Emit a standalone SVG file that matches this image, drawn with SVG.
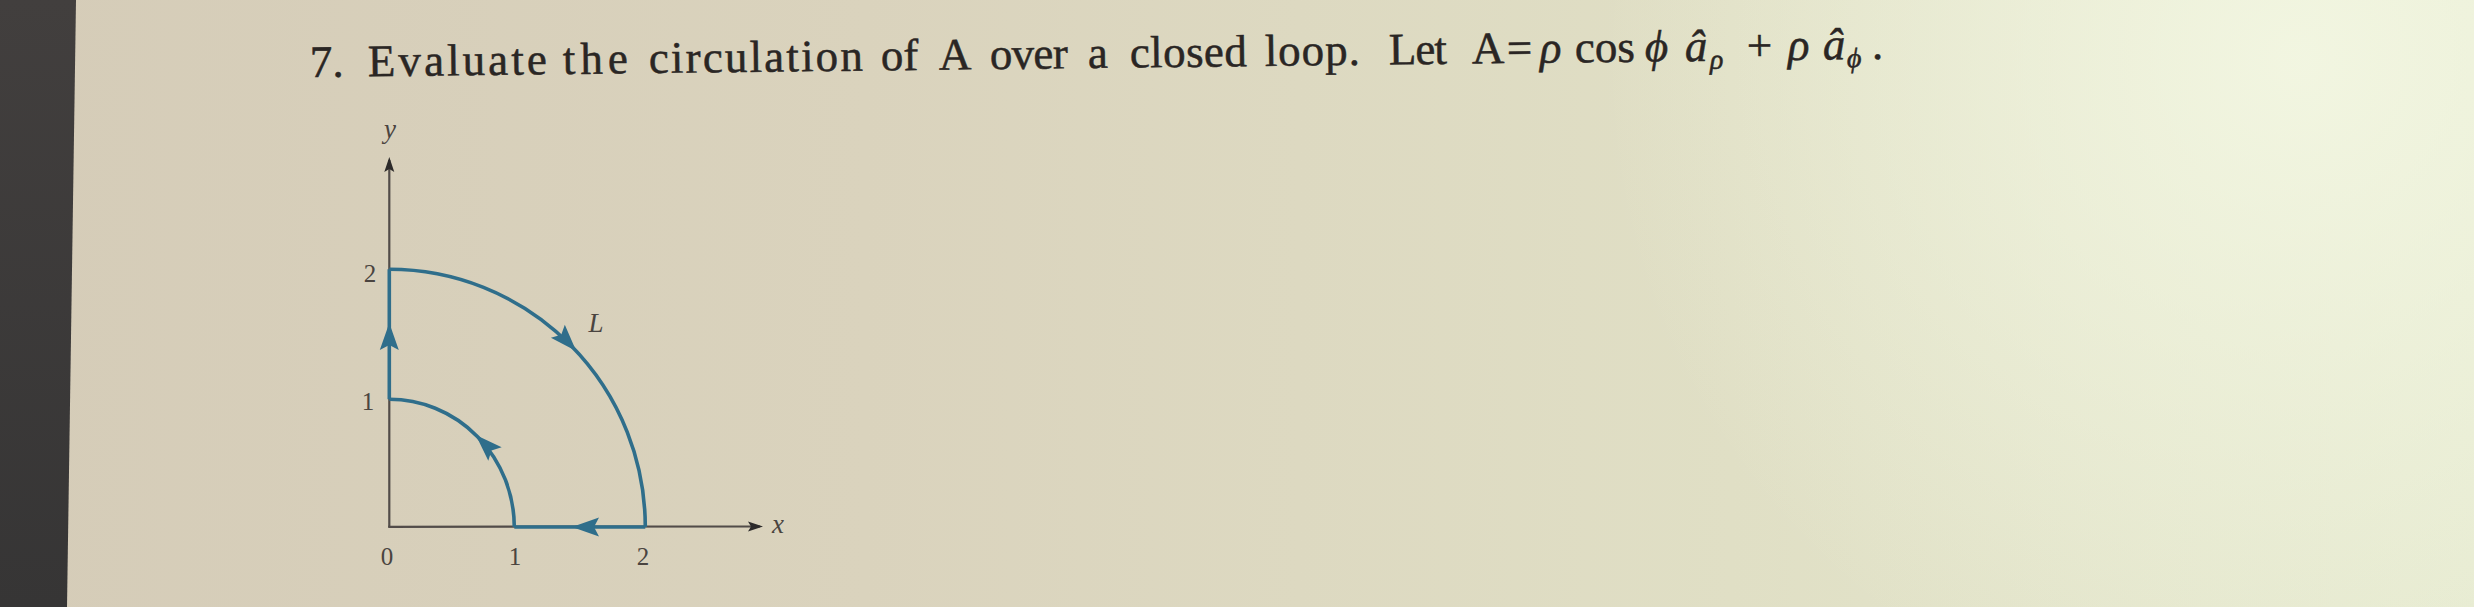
<svg xmlns="http://www.w3.org/2000/svg" width="2474" height="607" viewBox="0 0 2474 607">
  <defs>
    <linearGradient id="paper" x1="0" y1="0" x2="1" y2="0">
      <stop offset="0" stop-color="#d5ccb8"/>
      <stop offset="0.35" stop-color="#dad3bd"/>
      <stop offset="0.7" stop-color="#e0dfc5"/>
      <stop offset="1" stop-color="#e6ead0"/>
    </linearGradient>
    <radialGradient id="glow" cx="2300" cy="60" r="700" gradientUnits="userSpaceOnUse">
      <stop offset="0" stop-color="#f4f8e4" stop-opacity="0.85"/>
      <stop offset="1" stop-color="#f4f8e4" stop-opacity="0"/>
    </radialGradient>
    <linearGradient id="edge" x1="0" y1="0" x2="0" y2="1">
      <stop offset="0" stop-color="#423f3e"/>
      <stop offset="1" stop-color="#363535"/>
    </linearGradient>
    <path id="tealArrow" d="M0,0 L-27,-9.5 L-22,0 L-27,9.5 Z"/>
    <path id="axisArrow" d="M0,0 L-15,-5 L-12,0 L-15,5 Z"/>
    <style>
      .t { font-family: 'Liberation Serif', 'DejaVu Serif', serif; font-size: 45px; fill: #2a2624; stroke: #2a2624; stroke-width: 0.5; }
      .m { font-style: italic; }
      .sub { font-size: 28px; font-style: italic; }
      .lbl { font-family: 'Liberation Serif', 'DejaVu Serif', serif; font-size: 25px; fill: #4a4440; }
      .lbli { font-family: 'Liberation Serif', 'DejaVu Serif', serif; font-size: 27px; font-style: italic; fill: #4a4440; }
      .axis { stroke: #524c49; stroke-width: 2.2; fill: none; }
      .loop { stroke: #2f6e8b; stroke-width: 3.6; fill: none; }
      .ta { fill: #2f6e8b; }
      .aa { fill: #2c2a2a; }
    </style>
  </defs>

  <!-- background -->
  <rect x="0" y="0" width="2474" height="607" fill="url(#paper)"/>
  <rect x="0" y="0" width="2474" height="607" fill="url(#glow)"/>
  <polygon points="0,0 76,0 67,607 0,607" fill="url(#edge)"/>

  <!-- title -->
  <g id="title" transform="rotate(-0.66 310 77)">
    <text class="t" x="310" y="77">7.</text>
    <text class="t" x="368" y="77" textLength="179" lengthAdjust="spacing">Evaluate</text>
    <text class="t" x="563" y="77" textLength="65" lengthAdjust="spacing">the</text>
    <text class="t" x="649" y="77" textLength="214" lengthAdjust="spacing">circulation</text>
    <text class="t" x="881" y="77">of</text>
    <text class="t" x="939" y="77">A</text>
    <text class="t" x="990" y="77" textLength="78" lengthAdjust="spacing">over</text>
    <text class="t" x="1088" y="77">a</text>
    <text class="t" x="1130" y="77" textLength="117" lengthAdjust="spacing">closed</text>
    <text class="t" x="1265" y="77" textLength="95" lengthAdjust="spacing">loop.</text>
    <text class="t" x="1389" y="77" textLength="58" lengthAdjust="spacing">Let</text>
    <text class="t" x="1472" y="77">A</text>
    <text class="t" x="1507" y="77">=</text>
    <text class="t m" x="1540" y="77">ρ</text>
    <text class="t" x="1575" y="77" textLength="60" lengthAdjust="spacing">cos</text>
    <text class="t m" x="1645" y="77">ϕ</text>
    <text class="t m" x="1685" y="77">â</text>
    <text class="t sub" x="1710" y="85">ρ</text>
    <text class="t" x="1747" y="77">+</text>
    <text class="t m" x="1788" y="77">ρ</text>
    <text class="t m" x="1823" y="77">â</text>
    <text class="t sub" x="1847" y="85">ϕ</text>
    <text class="t" x="1872" y="77">.</text>
  </g>

  <!-- axes -->
  <g id="axes">
    <line class="axis" x1="389.3" y1="527" x2="389.3" y2="160"/>
    <line class="axis" x1="388.2" y1="526.8" x2="760" y2="526.5"/>
    <use href="#axisArrow" class="aa" transform="translate(389.3,157) rotate(-90)"/>
    <use href="#axisArrow" class="aa" transform="translate(763,526.5)"/>
  </g>

  <!-- closed loop L (connectors) -->
  <g id="connectors">
    <path class="loop" d="M514.3,527 L645.3,527"/>
    <path class="loop" d="M645.3,527 A256,258 0 0 0 389.3,269.3"/>
    <path class="loop" d="M389.3,269.3 L389.3,399.3"/>
    <path class="loop" d="M389.3,399.3 A125,128 0 0 1 514.3,527"/>
    <use href="#tealArrow" class="ta" transform="translate(389.3,323) rotate(-90)"/>
    <use href="#tealArrow" class="ta" transform="translate(576.2,351) rotate(47.2)"/>
    <use href="#tealArrow" class="ta" transform="translate(475.8,435) rotate(-135.3)"/>
    <use href="#tealArrow" class="ta" transform="translate(572,527) rotate(180)"/>
  </g>

  <!-- labels -->
  <g id="labels">
    <text class="lbli" x="390" y="138" text-anchor="middle">y</text>
    <text class="lbli" x="778" y="533" text-anchor="middle">x</text>
    <text class="lbli" x="596" y="332" text-anchor="middle">L</text>
    <text class="lbl" x="370" y="282" text-anchor="middle">2</text>
    <text class="lbl" x="368" y="410" text-anchor="middle">1</text>
    <text class="lbl" x="387" y="565" text-anchor="middle">0</text>
    <text class="lbl" x="515" y="565" text-anchor="middle">1</text>
    <text class="lbl" x="643" y="565" text-anchor="middle">2</text>
  </g>
</svg>
